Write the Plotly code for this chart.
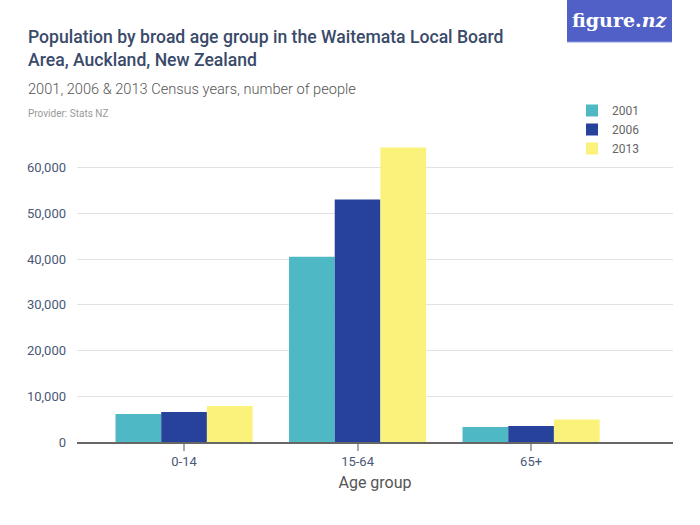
import plotly.graph_objects as go

categories = ["0-14", "15-64", "65+"]
years = ["2001", "2006", "2013"]
values_2001 = [6140, 40570, 3290]
values_2006 = [6580, 53070, 3510]
values_2013 = [7890, 64470, 4900]
colors = ["#4fb8c5", "#27429b", "#faf27a"]
y_ticks = [0, 10000, 20000, 30000, 40000, 50000, 60000]
y_tick_labels = ["0", "10,000", "20,000", "30,000", "40,000", "50,000", "60,000"]

FONT = "Roboto, Lato, sans-serif"

W, H = 700, 525
L, R, T, B = 77, 27, 145, 83
PW, PH = W - L - R, H - T - B


def px(x):
    return (x - L) / PW


def py(y):
    return (H - B - y) / PH


fig = go.Figure()
for name, vals, c in zip(years, [values_2001, values_2006, values_2013], colors):
    fig.add_trace(go.Bar(x=categories, y=vals, name=name, marker=dict(color=c, line=dict(width=0)),
                         hovertemplate="%{x}: %{y:,}<extra>" + name + "</extra>"))

fig.update_layout(
    width=W, height=H,
    margin=dict(l=L, r=R, t=T, b=B),
    paper_bgcolor="white", plot_bgcolor="white",
    barmode="group", bargap=0.21, bargroupgap=0,
    font=dict(family=FONT, color="#555555"),
    showlegend=True,
    legend=dict(x=px(572), y=py(96), xanchor="left", yanchor="top",
                font=dict(size=12, color="#666666"), itemwidth=30,
                tracegroupgap=0, bgcolor="rgba(0,0,0,0)"),
    xaxis=dict(range=[-0.617, 2.818], showline=True, linecolor="#666666", linewidth=1.5,
               ticks="outside", ticklen=7, tickcolor="#aaaaaa", tickwidth=2,
               tickfont=dict(size=13, color="#4a5878"),
               title=dict(text="Age group", font=dict(size=16, color="#555555"), standoff=8),
               showgrid=False, fixedrange=True),
    yaxis=dict(range=[0, 65000], tickvals=y_ticks, ticktext=y_tick_labels,
               showgrid=True, gridcolor="#e2e2e2", gridwidth=1,
               zeroline=False, showline=False, ticks="", ticklen=0,
               tickfont=dict(size=13, color="#4a5878"), fixedrange=True),
)
fig.update_yaxes(ticklabelstandoff=10)

fig.add_shape(type="rect", xref="paper", yref="paper", x0=px(567), x1=px(672), y0=py(42), y1=py(0),
              fillcolor="#5060c6", line=dict(width=0), layer="below")
fig.add_shape(type="line", xref="paper", yref="paper", x0=px(567), x1=px(672), y0=py(42), y1=py(42),
              line=dict(color="#8f98dc", width=1), layer="below")

anns = [
    dict(text="Population by broad age group in the Waitemata Local Board<br>Area, Auckland, New Zealand",
         x=px(26), y=py(25), xanchor="left", yanchor="top", align="left",
         font=dict(size=17.6, color="#3a4a6a", weight=500)),
    dict(text="2001, 2006 & 2013 Census years, number of people",
         x=px(26), y=py(78), xanchor="left", yanchor="top", align="left",
         font=dict(size=14.6, color="#555555", weight=300)),
    dict(text="Provider: Stats NZ",
         x=px(26), y=py(106), xanchor="left", yanchor="top", align="left",
         font=dict(size=10, color="#999999")),
    dict(text="figure.<i>nz</i>", x=px(619), y=py(20), xanchor="center", yanchor="middle",
         font=dict(size=19, color="white", weight="bold",
                   family="DejaVu Serif, Liberation Serif, serif")),
]
for a in anns:
    a.update(xref="paper", yref="paper", showarrow=False)
    fig.add_annotation(**a)

fig.write_html("out.html")
